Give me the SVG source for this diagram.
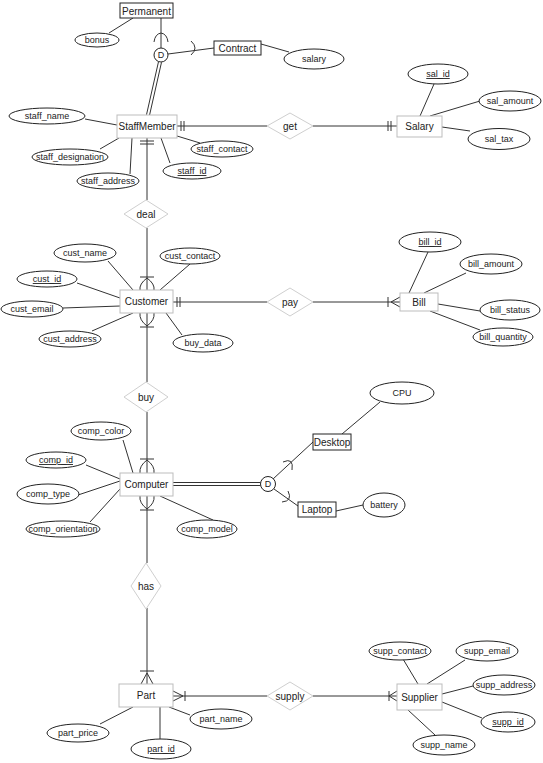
<svg xmlns="http://www.w3.org/2000/svg" width="543" height="763" viewBox="0 0 543 763">
<style>
text{font-family:"Liberation Sans",Arial,sans-serif;fill:#222;text-anchor:middle}
.t{font-size:10px}
.a{font-size:9px}
.u{text-decoration:underline}
.ent{fill:#fff;stroke:#bdbdbd;stroke-width:1}
.ent2{fill:#fff;stroke:#222;stroke-width:1}
.attr{fill:#fff;stroke:#222;stroke-width:1}
.rel{fill:#fff;stroke:#cfcfcf;stroke-width:1}
.lk line,.lk path{stroke:#333;stroke-width:1;fill:none}
</style>
<rect width="543" height="763" fill="#fff"/>
<g id="connectors" class="lk">
<line x1="161" y1="18" x2="161" y2="48"/>
<path d="M154,42 Q155,34 161,33 Q167,34 168,42"/>
<line x1="168" y1="54" x2="214" y2="48"/>
<path d="M191,41 Q199,48 191,55"/>
<line x1="161.5" y1="62.3" x2="149.5" y2="115.3"/>
<line x1="158.5" y1="61.7" x2="146.5" y2="114.7"/>
<line x1="133" y1="18" x2="109" y2="33"/>
<line x1="261" y1="44" x2="289" y2="52"/>
<line x1="85" y1="119" x2="117" y2="125"/>
<line x1="100" y1="149" x2="119" y2="138"/>
<line x1="130" y1="174" x2="132" y2="138"/>
<line x1="170" y1="163" x2="161" y2="138"/>
<line x1="177" y1="136" x2="200" y2="143"/>
<line x1="177" y1="126" x2="267" y2="126"/>
<line x1="181" y1="121" x2="181" y2="131"/>
<line x1="184" y1="121" x2="184" y2="131"/>
<line x1="313" y1="126" x2="397" y2="126"/>
<line x1="388" y1="121" x2="388" y2="131"/>
<line x1="391" y1="121" x2="391" y2="131"/>
<line x1="434" y1="84" x2="420" y2="116"/>
<line x1="480" y1="101" x2="430" y2="116"/>
<line x1="442" y1="127" x2="470" y2="131"/>
<line x1="147" y1="138" x2="147" y2="200"/>
<line x1="140" y1="141" x2="154" y2="141"/>
<line x1="140" y1="144" x2="154" y2="144"/>
<line x1="147" y1="228" x2="147" y2="290"/>
<line x1="140" y1="277" x2="154" y2="277"/>
<path d="M147,278 Q139,284 140,290"/>
<path d="M147,278 Q155,284 154,290"/>
<line x1="108" y1="261" x2="133" y2="290"/>
<line x1="190" y1="264" x2="160" y2="290"/>
<line x1="77" y1="283" x2="120" y2="298"/>
<line x1="63" y1="308" x2="120" y2="306"/>
<line x1="92" y1="331" x2="133" y2="313"/>
<line x1="182" y1="335" x2="166" y2="313"/>
<line x1="173" y1="302" x2="267" y2="302"/>
<line x1="177" y1="297" x2="177" y2="307"/>
<line x1="180" y1="297" x2="180" y2="307"/>
<line x1="313" y1="302" x2="400" y2="302"/>
<line x1="388" y1="297" x2="388" y2="307"/>
<line x1="391" y1="302" x2="400" y2="297"/>
<line x1="391" y1="302" x2="400" y2="307"/>
<line x1="428" y1="252" x2="409" y2="293"/>
<line x1="466" y1="273" x2="424" y2="293"/>
<line x1="438" y1="304" x2="480" y2="311"/>
<line x1="430" y1="311" x2="480" y2="330"/>
<line x1="147" y1="313" x2="147" y2="382"/>
<path d="M140,313 Q139,320 147,326"/>
<path d="M154,313 Q155,320 147,326"/>
<line x1="140" y1="327" x2="154" y2="327"/>
<line x1="147" y1="412" x2="147" y2="473"/>
<line x1="140" y1="459" x2="154" y2="459"/>
<path d="M147,460 Q139,466 140,473"/>
<path d="M147,460 Q155,466 154,473"/>
<line x1="123" y1="440" x2="133" y2="473"/>
<line x1="86" y1="465" x2="120" y2="479"/>
<line x1="78" y1="495" x2="120" y2="481"/>
<line x1="90" y1="522" x2="120" y2="489"/>
<line x1="213" y1="520" x2="160" y2="496"/>
<line x1="173" y1="482.5" x2="260.5" y2="482.5"/>
<line x1="173" y1="485.5" x2="260.5" y2="485.5"/>
<line x1="273" y1="479" x2="313" y2="442"/>
<path d="M283,462 Q294,457 292,470"/>
<line x1="274" y1="489" x2="298" y2="506"/>
<path d="M288,491 Q293,501 282,502"/>
<line x1="342" y1="434" x2="380" y2="402"/>
<line x1="336" y1="511" x2="363" y2="505"/>
<line x1="147" y1="496" x2="147" y2="563"/>
<path d="M140,496 Q139,503 147,509"/>
<path d="M154,496 Q155,503 147,509"/>
<line x1="140" y1="510" x2="154" y2="510"/>
<line x1="147" y1="608" x2="147" y2="684"/>
<line x1="140" y1="671" x2="154" y2="671"/>
<line x1="147" y1="673" x2="141" y2="684"/>
<line x1="147" y1="673" x2="153" y2="684"/>
<line x1="173" y1="696" x2="267" y2="696"/>
<line x1="173" y1="691" x2="183" y2="696"/>
<line x1="173" y1="701" x2="183" y2="696"/>
<line x1="185" y1="691" x2="185" y2="701"/>
<line x1="313" y1="696" x2="397" y2="696"/>
<line x1="389" y1="691" x2="389" y2="701"/>
<line x1="389" y1="696" x2="397" y2="691"/>
<line x1="389" y1="696" x2="397" y2="701"/>
<line x1="100" y1="724" x2="133" y2="707"/>
<line x1="160" y1="739" x2="160" y2="707"/>
<line x1="190" y1="715" x2="169" y2="707"/>
<line x1="403" y1="659" x2="418" y2="684"/>
<line x1="465" y1="660" x2="427" y2="684"/>
<line x1="442" y1="694" x2="473" y2="686"/>
<line x1="442" y1="702" x2="482" y2="718"/>
<line x1="435" y1="735" x2="408" y2="710"/>
</g>

<g id="Permanent"><rect class="ent2" x="120" y="3" width="53" height="15"/><text class="t" x="146.5" y="14.5">Permanent</text></g>
<g id="bonus"><ellipse class="attr" cx="97" cy="40" rx="22" ry="7"/><text class="a" x="97" y="43">bonus</text></g>
<g id="D1"><circle class="attr" cx="161" cy="55" r="7"/><text class="a" x="161" y="58">D</text></g>
<g id="Contract"><rect class="ent2" x="214" y="41" width="47" height="14"/><text class="t" x="237.5" y="51.5">Contract</text></g>
<g id="salary"><ellipse class="attr" cx="314" cy="59" rx="30" ry="10"/><text class="a" x="314" y="62">salary</text></g>

<g id="StaffMember"><rect class="ent" x="117" y="115" width="60" height="23"/><text class="t" x="147" y="130">StaffMember</text></g>
<g id="staff_name"><ellipse class="attr" cx="47" cy="116" rx="38" ry="8"/><text class="a" x="47" y="119">staff_name</text></g>
<g id="staff_designation"><ellipse class="attr" cx="70" cy="157" rx="38" ry="8"/><text class="a" x="70" y="160">staff_designation</text></g>
<g id="staff_address"><ellipse class="attr" cx="108" cy="181" rx="31" ry="8"/><text class="a" x="108" y="184">staff_address</text></g>
<g id="staff_id"><ellipse class="attr" cx="192" cy="171" rx="29" ry="8"/><text class="a u" x="192" y="174">staff_id</text></g>
<g id="staff_contact"><ellipse class="attr" cx="222" cy="149" rx="31" ry="8"/><text class="a" x="222" y="152">staff_contact</text></g>

<g id="get"><polygon class="rel" points="267,126 290,113 313,126 290,139"/><text class="t" x="290" y="129.5">get</text></g>
<g id="Salary"><rect class="ent" x="397" y="116" width="45" height="21"/><text class="t" x="419.5" y="130">Salary</text></g>
<g id="sal_id"><ellipse class="attr" cx="438" cy="74" rx="30" ry="10"/><text class="a u" x="438" y="77">sal_id</text></g>
<g id="sal_amount"><ellipse class="attr" cx="510" cy="101" rx="31" ry="10"/><text class="a" x="510" y="104">sal_amount</text></g>
<g id="sal_tax"><ellipse class="attr" cx="499" cy="139" rx="31" ry="10.5"/><text class="a" x="499" y="142">sal_tax</text></g>

<g id="deal"><polygon class="rel" points="124,214 146,200 168,214 146,228"/><text class="t" x="146" y="217.5">deal</text></g>

<g id="Customer"><rect class="ent" x="120" y="290" width="53" height="23"/><text class="t" x="146.5" y="305">Customer</text></g>
<g id="cust_name"><ellipse class="attr" cx="85" cy="253" rx="31" ry="9"/><text class="a" x="85" y="256">cust_name</text></g>
<g id="cust_contact"><ellipse class="attr" cx="190" cy="256" rx="30" ry="8"/><text class="a" x="190" y="259">cust_contact</text></g>
<g id="cust_id"><ellipse class="attr" cx="47" cy="279" rx="30" ry="8"/><text class="a u" x="47" y="282">cust_id</text></g>
<g id="cust_email"><ellipse class="attr" cx="32" cy="309" rx="31" ry="8"/><text class="a" x="32" y="312">cust_email</text></g>
<g id="cust_address"><ellipse class="attr" cx="70" cy="339" rx="31" ry="8"/><text class="a" x="70" y="342">cust_address</text></g>
<g id="buy_data"><ellipse class="attr" cx="203" cy="343" rx="30" ry="9"/><text class="a" x="203" y="346">buy_data</text></g>

<g id="pay"><polygon class="rel" points="267,302 290,288 313,302 290,316"/><text class="t" x="290" y="305.5">pay</text></g>
<g id="Bill"><rect class="ent" x="400" y="293" width="38" height="18"/><text class="t" x="419" y="305.5">Bill</text></g>
<g id="bill_id"><ellipse class="attr" cx="430" cy="242" rx="31" ry="10"/><text class="a u" x="430" y="245">bill_id</text></g>
<g id="bill_amount"><ellipse class="attr" cx="491" cy="264" rx="31" ry="10"/><text class="a" x="491" y="267">bill_amount</text></g>
<g id="bill_status"><ellipse class="attr" cx="510" cy="310" rx="30" ry="10"/><text class="a" x="510" y="313">bill_status</text></g>
<g id="bill_quantity"><ellipse class="attr" cx="503" cy="337" rx="30" ry="9"/><text class="a" x="503" y="340">bill_quantity</text></g>

<g id="buy"><polygon class="rel" points="124,397 146,382 168,397 146,412"/><text class="t" x="146" y="400.5">buy</text></g>

<g id="Computer"><rect class="ent" x="120" y="473" width="53" height="23"/><text class="t" x="146.5" y="488">Computer</text></g>
<g id="comp_color"><ellipse class="attr" cx="101" cy="431" rx="30" ry="9"/><text class="a" x="101" y="434">comp_color</text></g>
<g id="comp_id"><ellipse class="attr" cx="56" cy="460" rx="30" ry="8"/><text class="a u" x="56" y="463">comp_id</text></g>
<g id="comp_type"><ellipse class="attr" cx="48" cy="494" rx="31" ry="10"/><text class="a" x="48" y="497">comp_type</text></g>
<g id="comp_orientation"><ellipse class="attr" cx="63" cy="529" rx="37" ry="8"/><text class="a" x="63" y="532">comp_orientation</text></g>
<g id="comp_model"><ellipse class="attr" cx="207" cy="529" rx="30" ry="9"/><text class="a" x="207" y="532">comp_model</text></g>

<g id="D2"><circle class="attr" cx="268" cy="484" r="7.5"/><text class="a" x="268" y="487">D</text></g>
<g id="Desktop"><rect class="ent2" x="313" y="434" width="38" height="16"/><text class="t" x="332" y="445.5">Desktop</text></g>
<g id="CPU"><ellipse class="attr" cx="402" cy="393" rx="32" ry="11"/><text class="a" x="402" y="396">CPU</text></g>
<g id="Laptop"><rect class="ent2" x="298" y="502" width="38" height="15"/><text class="t" x="317" y="513">Laptop</text></g>
<g id="battery"><ellipse class="attr" cx="384" cy="505" rx="21" ry="12"/><text class="a" x="384" y="508">battery</text></g>

<g id="has"><polygon class="rel" points="131,586 146,563 161,586 146,609"/><text class="t" x="146" y="589.5">has</text></g>

<g id="Part"><rect class="ent" x="119" y="684" width="54" height="23"/><text class="t" x="146" y="699">Part</text></g>
<g id="part_price"><ellipse class="attr" cx="78" cy="733" rx="31" ry="9"/><text class="a" x="78" y="736">part_price</text></g>
<g id="part_id"><ellipse class="attr" cx="161" cy="749" rx="30" ry="10"/><text class="a u" x="161" y="752">part_id</text></g>
<g id="part_name"><ellipse class="attr" cx="221" cy="719" rx="31" ry="10"/><text class="a" x="221" y="722">part_name</text></g>

<g id="supply"><polygon class="rel" points="267,696 290,682 313,696 290,710"/><text class="t" x="290" y="699.5">supply</text></g>

<g id="Supplier"><rect class="ent" x="397" y="684" width="45" height="26"/><text class="t" x="419.5" y="700.5">Supplier</text></g>
<g id="supp_contact"><ellipse class="attr" cx="400" cy="651" rx="31" ry="9"/><text class="a" x="400" y="654">supp_contact</text></g>
<g id="supp_email"><ellipse class="attr" cx="487" cy="651" rx="31" ry="10"/><text class="a" x="487" y="654">supp_email</text></g>
<g id="supp_address"><ellipse class="attr" cx="504" cy="685" rx="31" ry="10"/><text class="a" x="504" y="688">supp_address</text></g>
<g id="supp_id"><ellipse class="attr" cx="508" cy="722" rx="27" ry="10"/><text class="a u" x="508" y="725">supp_id</text></g>
<g id="supp_name"><ellipse class="attr" cx="444" cy="745" rx="31" ry="10"/><text class="a" x="444" y="748">supp_name</text></g>
</svg>
